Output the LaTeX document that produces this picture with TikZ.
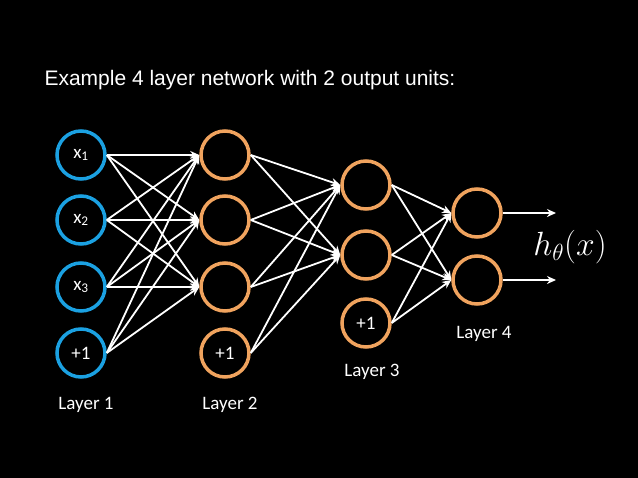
\documentclass[tikz,border=0pt]{standalone}
\usepackage{fontspec}
\setmainfont{Carlito}
\newfontfamily\titlefont{Liberation Sans}
\usetikzlibrary{arrows.meta,positioning}
\definecolor{inblue}{HTML}{1BA1E2}
\definecolor{unitorange}{HTML}{F0A35E}

\begin{document}
\begin{tikzpicture}[
    x=1pt, y=-1pt,
    inunit/.style={draw=inblue, line width=3.5pt, circle, minimum size=48pt, inner sep=0pt, text=white, font=\fontsize{19}{22}\selectfont},
    unit/.style={draw=unitorange, line width=3.5pt, circle, minimum size=48pt, inner sep=0pt, text=white, font=\fontsize{19}{22}\selectfont},
    lbl/.style={text=white, font=\fontsize{19}{22}\selectfont},
    wire/.style={-{Stealth[length=9pt,width=8pt]}, white, line width=1.8pt}
]
\fill[black] (0,0) rectangle (638,478);
\useasboundingbox (0,0) rectangle (638,478);

% --- title ---
\node[anchor=west, text=white, font=\titlefont\fontsize{21}{24}\selectfont] (title) at (41,80)
  {Example 4 layer network with 2 output units:};

% --- layer 1 ---
\node[inunit] (a1) at (81,155) {x\textsubscript{1}};
\node[inunit] (a2) at (81,220) {x\textsubscript{2}};
\node[inunit] (a3) at (81,287) {x\textsubscript{3}};
\node[inunit] (a4) at (81,353) {+1};

% --- layer 2 ---
\node[unit] (b1) at (225,155) {};
\node[unit] (b2) at (225,220) {};
\node[unit] (b3) at (225,287) {};
\node[unit] (b4) at (225,353) {+1};

% --- layer 3 ---
\node[unit] (c1) at (366,185) {};
\node[unit] (c2) at (366,255) {};
\node[unit] (c3) at (366,323) {+1};

% --- layer 4 ---
\node[unit] (d1) at (477,213) {};
\node[unit] (d2) at (477,280) {};

% --- labels ---
\node[lbl] (l1) at (86,405) {Layer 1};
\node[lbl] (l2) at (230,405) {Layer 2};
\node[lbl] (l3) at (372,372) {Layer 3};
\node[lbl] (l4) at (484,334) {Layer 4};

% --- output ---
\coordinate (o1) at (556,213);
\coordinate (o2) at (556,280);
\node[text=white, font=\fontsize{24}{28}\selectfont] (hyp) at (570,247) {\scalebox{1.35}{$h_\theta(x)$}};

% --- wires ---
\foreach \s in {a1,a2,a3,a4}
  \foreach \t in {b1,b2,b3}
    \draw[wire] (\s.east) -- (\t.west);
\foreach \s in {b1,b2,b3,b4}
  \foreach \t in {c1,c2}
    \draw[wire] (\s.east) -- (\t.west);
\foreach \s in {c1,c2,c3}
  \foreach \t in {d1,d2}
    \draw[wire] (\s.east) -- (\t.west);
\draw[wire] (d1.east) -- (o1);
\draw[wire] (d2.east) -- (o2);

\end{tikzpicture}
\end{document}
